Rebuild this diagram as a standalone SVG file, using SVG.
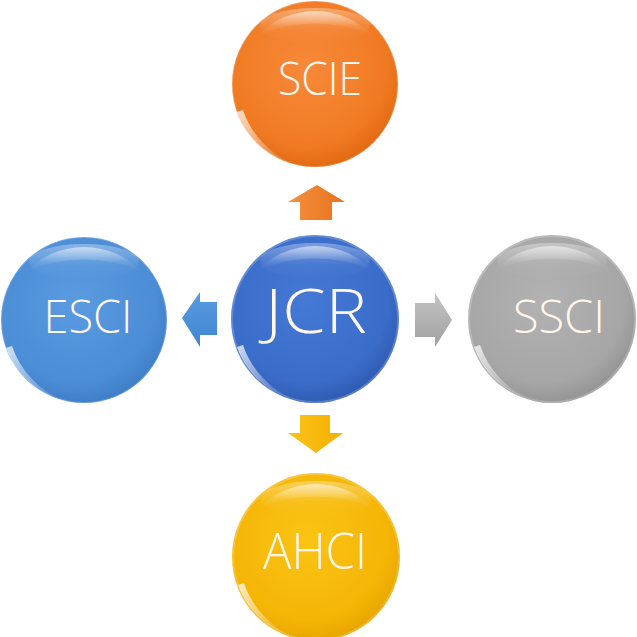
<svg xmlns="http://www.w3.org/2000/svg" width="637" height="637" viewBox="0 0 637 637">
<defs>
<style>
.lbl{font-family:"Open Sans","Liberation Sans",sans-serif;font-weight:300;fill:#fff7ec;text-anchor:middle}
</style>
<radialGradient id="gOrange" cx="45%" cy="40%" r="60%"><stop offset="0" stop-color="#f7893a"/><stop offset="0.8" stop-color="#f07a22"/><stop offset="1" stop-color="#e26a12"/></radialGradient>
<radialGradient id="gBlue" cx="45%" cy="40%" r="60%"><stop offset="0" stop-color="#4579d6"/><stop offset="0.8" stop-color="#3a6cc9"/><stop offset="1" stop-color="#2f5cb3"/></radialGradient>
<radialGradient id="gLight" cx="45%" cy="40%" r="60%"><stop offset="0" stop-color="#5a9be0"/><stop offset="0.8" stop-color="#4b8dd6"/><stop offset="1" stop-color="#3f7fc8"/></radialGradient>
<radialGradient id="gGray" cx="45%" cy="40%" r="60%"><stop offset="0" stop-color="#b2b2b2"/><stop offset="0.8" stop-color="#a6a6a6"/><stop offset="1" stop-color="#959595"/></radialGradient>
<radialGradient id="gYellow" cx="45%" cy="40%" r="60%"><stop offset="0" stop-color="#fac415"/><stop offset="0.8" stop-color="#f5b505"/><stop offset="1" stop-color="#e8a600"/></radialGradient>
<linearGradient id="gTop" x1="0" y1="0" x2="0" y2="1"><stop offset="0" stop-color="#fff" stop-opacity="0.55"/><stop offset="0.6" stop-color="#fff" stop-opacity="0.08"/><stop offset="1" stop-color="#fff" stop-opacity="0"/></linearGradient>
<linearGradient id="gRim" x1="0" y1="0" x2="1" y2="1"><stop offset="0" stop-color="#fff" stop-opacity="0.75"/><stop offset="1" stop-color="#fff" stop-opacity="0"/></linearGradient>
<linearGradient id="aOrange" x1="0" y1="0" x2="1" y2="0"><stop offset="0" stop-color="#f59040"/><stop offset="1" stop-color="#e8721c"/></linearGradient>
<linearGradient id="aBlue" x1="0" y1="0" x2="0" y2="1"><stop offset="0" stop-color="#5a9be0"/><stop offset="1" stop-color="#3f86d2"/></linearGradient>
<linearGradient id="aGray" x1="0" y1="0" x2="0" y2="1"><stop offset="0" stop-color="#c4c4c4"/><stop offset="1" stop-color="#a0a0a0"/></linearGradient>
<linearGradient id="aYellow" x1="0" y1="0" x2="1" y2="0"><stop offset="0" stop-color="#fbc31a"/><stop offset="1" stop-color="#f5b000"/></linearGradient>
<g id="gloss">
<path d="M -58 -48 A 80 80 0 0 1 58 -48 A 95 60 0 0 0 -58 -48 Z" fill="url(#gTop)"/>
<ellipse cx="0" cy="-58" rx="55" ry="18" fill="url(#gTop)" opacity="0.6"/>
<path d="M -78 28 A 83 83 0 0 0 -22 80 A 90 90 0 0 1 -72 26 Z" fill="url(#gRim)"/>
<circle cx="0" cy="0" r="83" fill="none" stroke="#fff" stroke-opacity="0.2" stroke-width="2"/>
</g>
</defs>
<rect width="637" height="637" fill="#fff"/>
<g id="connectors">
<path d="M317 185 L345 202 L332 202 L332 220 L300 220 L300 202 L288 202 Z" fill="url(#aOrange)"/>
<path d="M182 318 L200 292 L200 302 L217 302 L217 335 L200 335 L200 347 Z" fill="url(#aBlue)"/>
<path d="M452 320 L435 293 L435 303 L415 303 L415 337 L435 337 L435 347 Z" fill="url(#aGray)"/>
<path d="M316 453 L343 433 L330 433 L330 415 L300 415 L300 433 L288 433 Z" fill="url(#aYellow)"/>
</g>
<g id="node-scie">
<circle cx="315" cy="84" r="83" fill="url(#gOrange)"/>
<use href="#gloss" x="315" y="84"/>
<text class="lbl" x="320" y="95" font-size="46" textLength="84" lengthAdjust="spacingAndGlyphs">SCIE</text>
</g>
<g id="node-jcr">
<circle cx="315" cy="319" r="84" fill="url(#gBlue)"/>
<use href="#gloss" x="315" y="319"/>
<text class="lbl" x="316" y="333" font-size="60" textLength="102" lengthAdjust="spacingAndGlyphs">JCR</text>
</g>
<g id="node-esci">
<circle cx="84" cy="320" r="83" fill="url(#gLight)"/>
<use href="#gloss" x="84" y="320"/>
<text class="lbl" x="88" y="333" font-size="46" textLength="89" lengthAdjust="spacingAndGlyphs">ESCI</text>
</g>
<g id="node-ssci">
<circle cx="552" cy="319" r="84" fill="url(#gGray)"/>
<use href="#gloss" x="552" y="319"/>
<text class="lbl" x="559" y="333" font-size="46" textLength="92" lengthAdjust="spacingAndGlyphs">SSCI</text>
</g>
<g id="node-ahci">
<circle cx="316" cy="557" r="84" fill="url(#gYellow)"/>
<use href="#gloss" x="316" y="557"/>
<text class="lbl" x="315" y="569" font-size="50" textLength="104" lengthAdjust="spacingAndGlyphs">AHCI</text>
</g>
</svg>
